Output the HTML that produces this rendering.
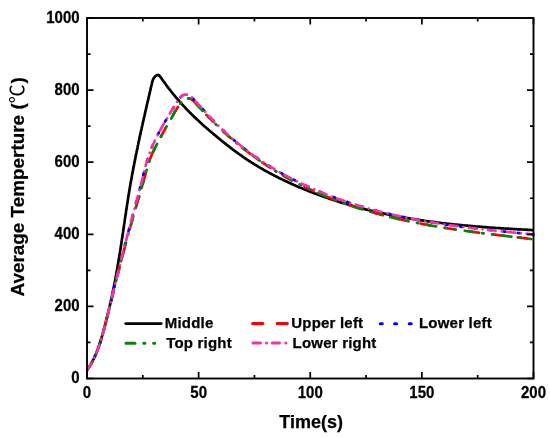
<!DOCTYPE html>
<html><head><meta charset="utf-8"><style>
html,body{margin:0;padding:0;background:#fff;}
svg{display:block;}
.t{font-family:"Liberation Sans",Arial,sans-serif;font-weight:bold;fill:#000;stroke:#000;stroke-width:0.25px;}
</style></head><body>
<svg width="550" height="438" viewBox="0 0 550 438">
<rect x="0" y="0" width="550" height="438" fill="#fff"/>
<g fill="none" stroke-width="2.7" stroke-linejoin="round">
<path d="M87.6 369.5L88.3 368.5L88.9 367.5L89.5 366.5L90.2 365.4L90.8 364.4L91.3 363.3L91.9 362.3L92.5 361.2L93.0 360.2L93.6 359.1L94.1 358.0L94.6 356.9L95.1 355.8L95.6 354.7L96.1 353.6L96.5 352.5L97.0 351.4L97.4 350.3L97.8 349.1L98.2 348.0L98.6 346.9L99.0 345.8L99.4 344.6L99.8 343.5L100.2 342.3L100.5 341.2L100.9 340.0L101.2 338.9L101.6 337.7L101.9 336.6L102.3 335.4L102.6 334.3L102.9 333.1L103.2 332.0L103.5 330.8L103.9 329.6L104.2 328.5L104.5 327.3L104.8 326.2L105.1 325.0L105.4 323.8L105.7 322.7L106.0 321.5L106.3 320.4L106.6 319.2L106.9 318.0L107.2 316.9L107.5 315.7L107.8 314.5L108.0 313.4L108.3 312.2L108.6 311.0L108.9 309.8L109.1 308.7L109.4 307.5L109.7 306.3L110.0 305.2L110.2 304.0L110.5 302.8L110.7 301.6L111.0 300.5L111.3 299.3L111.5 298.1L111.8 297.0L112.0 295.8L112.3 294.6L112.5 293.4L112.7 292.2L113.0 291.1L113.2 289.9L113.5 288.7L113.7 287.5L113.9 286.4L114.2 285.2L114.4 284.0L114.6 282.8L114.9 281.6L115.1 280.5L115.3 279.3L115.5 278.1L115.7 276.9L116.0 275.7L116.2 274.6L116.4 273.4L116.6 272.2L116.8 271.0L117.0 269.8L117.2 268.6L117.4 267.5L117.6 266.3L117.8 265.1L118.0 263.9L118.2 262.7L118.4 261.5L118.6 260.4L118.8 259.2L119.0 258.0L119.2 256.8L119.4 255.6L119.6 254.4L119.8 253.2L120.0 252.1L120.2 250.9L120.4 249.7L120.6 248.5L120.7 247.3L120.9 246.1L121.1 244.9L121.3 243.7L121.5 242.6L121.6 241.4L121.8 240.2L122.0 239.0L122.2 237.8L122.4 236.6L122.5 235.4L122.7 234.2L122.9 233.1L123.1 231.9L123.2 230.7L123.4 229.5L123.6 228.3L123.8 227.1L123.9 225.9L124.1 224.7L124.3 223.5L124.5 222.4L124.6 221.2L124.8 220.0L125.0 218.8L125.2 217.6L125.3 216.4L125.5 215.2L125.7 214.0L125.9 212.9L126.0 211.7L126.2 210.5L126.4 209.3L126.6 208.1L126.8 206.9L126.9 205.7L127.1 204.5L127.3 203.4L127.5 202.2L127.7 201.0L127.9 199.8L128.1 198.6L128.2 197.4L128.4 196.2L128.6 195.0L128.8 193.9L129.0 192.7L129.2 191.5L129.4 190.3L129.6 189.1L129.8 187.9L130.0 186.8L130.2 185.6L130.4 184.4L130.6 183.2L130.8 182.0L131.0 180.8L131.3 179.7L131.5 178.5L131.7 177.3L131.9 176.1L132.1 174.9L132.3 173.7L132.6 172.6L132.8 171.4L133.0 170.2L133.2 169.0L133.4 167.8L133.7 166.7L133.9 165.5L134.1 164.3L134.4 163.1L134.6 161.9L134.8 160.8L135.1 159.6L135.3 158.4L135.5 157.2L135.8 156.1L136.0 154.9L136.2 153.7L136.5 152.5L136.7 151.3L137.0 150.2L137.2 149.0L137.5 147.8L137.7 146.6L137.9 145.5L138.2 144.3L138.4 143.1L138.7 141.9L138.9 140.8L139.2 139.6L139.4 138.4L139.7 137.2L139.9 136.1L140.2 134.9L140.5 133.7L140.7 132.5L141.0 131.4L141.2 130.2L141.5 129.0L141.7 127.9L142.0 126.7L142.3 125.5L142.5 124.3L142.8 123.2L143.0 122.0L143.3 120.8L143.6 119.6L143.8 118.5L144.1 117.3L144.4 116.1L144.6 115.0L144.9 113.8L145.2 112.6L145.4 111.4L145.7 110.3L146.0 109.1L146.2 107.9L146.5 106.8L146.8 105.6L147.0 104.4L147.3 103.2L147.6 102.1L147.9 100.9L148.1 99.7L148.4 98.6L148.7 97.4L148.9 96.2L149.2 95.1L149.5 93.9L149.8 92.7L150.0 91.5L150.3 90.4L150.6 89.2L150.8 88.0L151.1 86.9L151.4 85.7L151.7 84.5L151.9 83.4L152.2 82.2L152.5 81.0L152.9 79.9L153.4 78.8L154.0 77.8L154.8 76.9L155.6 76.0L156.6 75.3L157.7 74.9L158.7 75.0L159.5 75.8L160.3 76.8L161.0 77.7L161.7 78.7L162.4 79.7L163.1 80.7L163.8 81.7L164.5 82.6L165.2 83.6L165.9 84.6L166.6 85.5L167.3 86.5L168.0 87.5L168.8 88.4L169.5 89.4L170.3 90.3L171.0 91.3L171.7 92.2L172.5 93.1L173.3 94.1L174.0 95.0L174.8 95.9L175.5 96.8L176.3 97.8L177.1 98.7L177.9 99.6L178.7 100.5L179.5 101.4L180.3 102.3L181.1 103.2L181.9 104.1L182.7 105.0L183.5 105.9L184.3 106.7L185.1 107.6L185.9 108.5L186.8 109.4L187.6 110.2L188.4 111.1L189.3 111.9L190.1 112.8L191.0 113.6L191.8 114.5L192.7 115.3L193.6 116.2L194.4 117.0L195.3 117.8L196.2 118.7L197.0 119.5L197.9 120.3L198.8 121.1L199.7 121.9L200.6 122.8L201.5 123.6L202.3 124.4L203.2 125.2L204.1 126.0L205.0 126.8L205.9 127.5L206.8 128.3L207.8 129.1L208.7 129.9L209.6 130.7L210.5 131.5L211.4 132.2L212.3 133.0L213.2 133.8L214.2 134.6L215.1 135.3L216.0 136.1L216.9 136.9L217.9 137.6L218.8 138.4L219.7 139.1L220.7 139.9L221.6 140.7L222.5 141.4L223.5 142.2L224.4 142.9L225.3 143.7L226.3 144.4L227.2 145.2L228.2 145.9L229.1 146.6L230.1 147.4L231.0 148.1L232.0 148.8L232.9 149.6L233.9 150.3L234.9 151.0L235.8 151.7L236.8 152.4L237.8 153.1L238.7 153.8L239.7 154.5L240.7 155.2L241.7 155.9L242.7 156.6L243.7 157.3L244.6 158.0L245.6 158.6L246.6 159.3L247.6 160.0L248.6 160.6L249.6 161.3L250.7 161.9L251.7 162.6L252.7 163.2L253.7 163.9L254.7 164.5L255.8 165.1L256.8 165.7L257.8 166.4L258.8 167.0L259.9 167.6L260.9 168.2L262.0 168.8L263.0 169.4L264.0 170.0L265.1 170.6L266.1 171.1L267.2 171.7L268.2 172.3L269.3 172.9L270.4 173.4L271.4 174.0L272.5 174.6L273.5 175.1L274.6 175.7L275.7 176.2L276.8 176.8L277.8 177.3L278.9 177.9L280.0 178.4L281.1 178.9L282.1 179.4L283.2 180.0L284.3 180.5L285.4 181.0L286.5 181.5L287.6 182.0L288.6 182.5L289.7 183.0L290.8 183.5L291.9 184.0L293.0 184.5L294.1 185.0L295.2 185.5L296.3 186.0L297.4 186.4L298.5 186.9L299.6 187.4L300.7 187.8L301.9 188.3L303.0 188.8L304.1 189.2L305.2 189.7L306.3 190.1L307.4 190.6L308.5 191.0L309.6 191.5L310.8 191.9L311.9 192.3L313.0 192.8L314.1 193.2L315.3 193.6L316.4 194.0L317.5 194.5L318.6 194.9L319.8 195.3L320.9 195.7L322.0 196.1L323.1 196.5L324.3 196.9L325.4 197.3L326.6 197.7L327.7 198.1L328.8 198.5L330.0 198.9L331.1 199.3L332.2 199.6L333.4 200.0L334.5 200.4L335.7 200.8L336.8 201.1L338.0 201.5L339.1 201.9L340.2 202.2L341.4 202.6L342.5 202.9L343.7 203.3L344.8 203.6L346.0 204.0L347.1 204.3L348.3 204.6L349.4 205.0L350.6 205.3L351.8 205.6L352.9 206.0L354.1 206.3L355.2 206.6L356.4 206.9L357.5 207.2L358.7 207.5L359.9 207.9L361.0 208.2L362.2 208.5L363.4 208.8L364.5 209.1L365.7 209.4L366.8 209.6L368.0 209.9L369.2 210.2L370.3 210.5L371.5 210.8L372.7 211.1L373.9 211.3L375.0 211.6L376.2 211.9L377.4 212.2L378.5 212.4L379.7 212.7L380.9 212.9L382.1 213.2L383.2 213.4L384.4 213.7L385.6 213.9L386.8 214.2L387.9 214.4L389.1 214.7L390.3 214.9L391.5 215.2L392.6 215.4L393.8 215.6L395.0 215.8L396.2 216.1L397.4 216.3L398.5 216.5L399.7 216.7L400.9 217.0L402.1 217.2L403.3 217.4L404.5 217.6L405.6 217.8L406.8 218.0L408.0 218.2L409.2 218.4L410.4 218.6L411.6 218.8L412.7 219.0L413.9 219.2L415.1 219.4L416.3 219.5L417.5 219.7L418.7 219.9L419.9 220.1L421.1 220.3L422.2 220.4L423.4 220.6L424.6 220.8L425.8 221.0L427.0 221.1L428.2 221.3L429.4 221.5L430.6 221.6L431.8 221.8L433.0 221.9L434.1 222.1L435.3 222.2L436.5 222.4L437.7 222.5L438.9 222.7L440.1 222.8L441.3 223.0L442.5 223.1L443.7 223.3L444.9 223.4L446.1 223.5L447.3 223.7L448.5 223.8L449.6 223.9L450.8 224.1L452.0 224.2L453.2 224.3L454.4 224.5L455.6 224.6L456.8 224.7L458.0 224.8L459.2 224.9L460.4 225.1L461.6 225.2L462.8 225.3L464.0 225.4L465.2 225.5L466.4 225.6L467.6 225.7L468.8 225.8L470.0 225.9L471.2 226.0L472.4 226.1L473.6 226.3L474.8 226.4L476.0 226.5L477.2 226.5L478.4 226.6L479.5 226.7L480.7 226.8L481.9 226.9L483.1 227.0L484.3 227.1L485.5 227.2L486.7 227.3L487.9 227.4L489.1 227.5L490.3 227.6L491.5 227.6L492.7 227.7L493.9 227.8L495.1 227.9L496.3 228.0L497.5 228.0L498.7 228.1L499.9 228.2L501.1 228.3L502.3 228.4L503.5 228.4L504.7 228.5L505.9 228.6L507.1 228.7L508.3 228.7L509.5 228.8L510.7 228.9L511.9 228.9L513.1 229.0L514.3 229.1L515.5 229.1L516.7 229.2L517.9 229.3L519.1 229.4L520.3 229.4L521.5 229.5L522.7 229.5L523.9 229.6L525.1 229.7L526.3 229.7L527.5 229.8L528.7 229.9L529.9 229.9L531.1 230.0L532.3 230.1L533.5 230.1" stroke="#000" stroke-linecap="butt"/>
<path d="M87.3 369.5L88.1 368.5L88.8 367.6L89.4 366.6L90.1 365.6L90.8 364.6L91.4 363.6L92.0 362.5L92.5 361.5L93.1 360.4L93.6 359.3L94.1 358.2L94.6 357.1L95.1 356.1L95.6 354.9L96.1 353.8L96.5 352.7L97.0 351.6L97.4 350.5L97.8 349.4L98.2 348.2L98.6 347.1L99.0 346.0L99.4 344.8L99.8 343.7L100.2 342.6L100.5 341.4L100.9 340.3L101.2 339.1L101.6 338.0L101.9 336.8L102.2 335.7L102.6 334.5L102.9 333.3L103.2 332.2L103.5 331.0L103.8 329.9L104.1 328.7L104.4 327.5L104.7 326.4L105.0 325.2L105.3 324.1L105.6 322.9L105.9 321.7L106.2 320.6L106.5 319.4L106.8 318.2L107.1 317.1L107.4 315.9L107.7 314.8L108.0 313.6L108.2 312.4L108.5 311.3L108.8 310.1L109.1 308.9L109.4 307.8L109.7 306.6L110.0 305.4L110.3 304.3L110.6 303.1L110.9 301.9L111.2 300.8L111.5 299.6L111.7 298.5L112.0 297.3L112.3 296.1L112.6 295.0L112.9 293.8L113.2 292.6L113.5 291.5L113.8 290.3L114.1 289.1L114.4 288.0L114.7 286.8L115.0 285.6L115.2 284.5L115.5 283.3L115.8 282.2L116.1 281.0L116.4 279.8L116.7 278.7L117.0 277.5L117.3 276.3L117.6 275.2L117.9 274.0L118.2 272.8L118.5 271.7L118.8 270.5L119.1 269.4L119.4 268.2L119.7 267.0L120.0 265.9L120.3 264.7L120.6 263.5L120.9 262.4L121.1 261.2L121.4 260.1L121.7 258.9L122.0 257.7L122.4 256.6L122.7 255.4L123.0 254.2L123.3 253.1L123.6 251.9L123.9 250.8L124.2 249.6L124.5 248.4L124.8 247.3L125.1 246.1L125.4 245.0L125.7 243.8L126.0 242.6L126.3 241.5L126.6 240.3L127.0 239.2L127.3 238.0L127.6 236.8L127.9 235.7L128.2 234.5L128.5 233.4L128.8 232.2L129.2 231.1L129.5 229.9L129.8 228.7L130.1 227.6L130.4 226.4L130.8 225.3L131.1 224.1L131.4 223.0L131.7 221.8L132.1 220.7L132.4 219.5L132.7 218.3L133.1 217.2L133.4 216.0L133.7 214.9L134.1 213.7L134.4 212.6L134.7 211.4L135.1 210.3L135.4 209.1L135.7 208.0L136.1 206.8L136.4 205.7L136.7 204.5L137.1 203.4L137.4 202.2L137.8 201.1L138.1 199.9L138.4 198.8L138.8 197.6L139.1 196.5L139.5 195.3L139.8 194.2L140.1 193.0L140.5 191.8L140.8 190.7L141.1 189.5L141.5 188.4L141.8 187.2L142.1 186.1L142.5 184.9L142.8 183.8L143.1 182.6L143.5 181.5L143.8 180.3L144.1 179.2L144.4 178.0L144.8 176.8L145.1 175.7L145.4 174.5L145.7 173.4L146.0 172.2L146.4 171.1L146.7 169.9L147.0 168.8L147.3 167.6L147.7 166.4L148.0 165.3L148.4 164.1L148.7 163.0L149.1 161.9L149.5 160.7L149.9 159.6L150.3 158.5L150.7 157.4L151.2 156.2L151.6 155.1L152.1 154.0L152.6 152.9L153.1 151.8L153.6 150.8L154.2 149.7L154.7 148.6L155.2 147.5L155.8 146.5L156.3 145.4L156.9 144.3L157.4 143.3L158.0 142.2L158.5 141.1L159.1 140.1L159.7 139.0L160.2 138.0L160.8 136.9L161.4 135.8L162.0 134.8L162.5 133.7L163.1 132.7L163.7 131.6L164.3 130.6L164.9 129.6L165.5 128.5L166.0 127.5L166.6 126.4L167.2 125.4L167.8 124.3L168.4 123.3L169.0 122.2L169.6 121.2L170.2 120.2L170.8 119.1L171.4 118.1L172.0 117.0L172.6 116.0L173.2 114.9L173.7 113.9L174.3 112.8L174.9 111.8L175.6 110.8L176.2 109.7L176.8 108.7L177.4 107.7L178.1 106.7L178.7 105.7L179.4 104.7L180.1 103.7L180.9 102.8L181.7 101.9L182.4 101.0L183.2 100.1L184.3 99.5L185.3 98.9L186.5 98.5L187.7 98.4L188.8 98.4L190.0 98.7L191.1 99.1L192.0 99.9L193.0 100.6L193.9 101.3L194.7 102.2L195.5 103.1L196.3 104.0L197.1 104.9L197.9 105.8L198.7 106.7L199.6 107.6L200.4 108.5L201.2 109.3L202.0 110.2L202.8 111.1L203.6 112.0L204.5 112.8L205.3 113.7L206.1 114.6L207.0 115.4L207.8 116.3L208.6 117.2L209.5 118.0L210.3 118.9L211.2 119.7L212.0 120.6L212.9 121.4L213.7 122.3L214.6 123.1L215.4 124.0L216.3 124.8L217.1 125.6L218.0 126.5L218.9 127.3L219.8 128.1L220.6 128.9L221.5 129.7L222.4 130.6L223.3 131.4L224.1 132.2L225.0 133.0L225.9 133.8L226.8 134.6L227.7 135.4L228.6 136.2L229.5 137.0L230.4 137.8L231.3 138.6L232.2 139.4L233.1 140.1L234.1 140.9L235.0 141.7L235.9 142.5L236.8 143.2L237.7 144.0L238.7 144.8L239.6 145.5L240.5 146.3L241.5 147.0L242.4 147.8L243.3 148.5L244.3 149.3L245.2 150.0L246.2 150.7L247.1 151.5L248.1 152.2L249.0 152.9L250.0 153.6L251.0 154.4L251.9 155.1L252.9 155.8L253.9 156.5L254.8 157.2L255.8 157.9L256.8 158.6L257.8 159.3L258.8 160.0L259.7 160.7L260.7 161.3L261.7 162.0L262.7 162.7L263.7 163.4L264.7 164.0L265.7 164.7L266.7 165.4L267.7 166.0L268.7 166.7L269.7 167.3L270.7 168.0L271.7 168.6L272.8 169.3L273.8 169.9L274.8 170.5L275.8 171.1L276.8 171.8L277.9 172.4L278.9 173.0L279.9 173.6L281.0 174.2L282.0 174.8L283.0 175.4L284.1 176.0L285.1 176.6L286.2 177.2L287.2 177.8L288.3 178.4L289.3 179.0L290.4 179.5L291.4 180.1L292.5 180.7L293.6 181.2L294.6 181.8L295.7 182.3L296.7 182.9L297.8 183.4L298.9 184.0L300.0 184.5L301.0 185.1L302.1 185.6L303.2 186.1L304.3 186.7L305.3 187.2L306.4 187.7L307.5 188.2L308.6 188.7L309.7 189.2L310.8 189.7L311.9 190.2L312.9 190.7L314.0 191.2L315.1 191.7L316.2 192.2L317.3 192.7L318.4 193.2L319.5 193.7L320.6 194.1L321.7 194.6L322.8 195.1L324.0 195.5L325.1 196.0L326.2 196.4L327.3 196.9L328.4 197.3L329.5 197.8L330.6 198.2L331.7 198.7L332.9 199.1L334.0 199.5L335.1 200.0L336.2 200.4L337.3 200.8L338.5 201.2L339.6 201.7L340.7 202.1L341.8 202.5L343.0 202.9L344.1 203.3L345.2 203.7L346.4 204.1L347.5 204.5L348.6 204.9L349.8 205.3L350.9 205.7L352.0 206.0L353.2 206.4L354.3 206.8L355.5 207.2L356.6 207.5L357.8 207.9L358.9 208.3L360.0 208.6L361.2 209.0L362.3 209.4L363.5 209.7L364.6 210.1L365.8 210.4L366.9 210.7L368.1 211.1L369.2 211.4L370.4 211.8L371.5 212.1L372.7 212.4L373.8 212.7L375.0 213.1L376.2 213.4L377.3 213.7L378.5 214.0L379.6 214.3L380.8 214.6L382.0 214.9L383.1 215.3L384.3 215.6L385.4 215.9L386.6 216.1L387.8 216.4L388.9 216.7L390.1 217.0L391.3 217.3L392.4 217.6L393.6 217.9L394.8 218.1L395.9 218.4L397.1 218.7L398.3 219.0L399.4 219.2L400.6 219.5L401.8 219.7L403.0 220.0L404.1 220.3L405.3 220.5L406.5 220.8L407.6 221.0L408.8 221.3L410.0 221.5L411.2 221.8L412.3 222.0L413.5 222.2L414.7 222.5L415.9 222.7L417.1 222.9L418.2 223.2L419.4 223.4L420.6 223.6L421.8 223.9L422.9 224.1L424.1 224.3L425.3 224.5L426.5 224.7L427.7 224.9L428.8 225.2L430.0 225.4L431.2 225.6L432.4 225.8L433.6 226.0L434.8 226.2L435.9 226.4L437.1 226.6L438.3 226.8L439.5 227.0L440.7 227.2L441.9 227.4L443.0 227.6L444.2 227.7L445.4 227.9L446.6 228.1L447.8 228.3L449.0 228.5L450.2 228.7L451.4 228.9L452.5 229.0L453.7 229.2L454.9 229.4L456.1 229.6L457.3 229.7L458.5 229.9L459.7 230.1L460.9 230.2L462.0 230.4L463.2 230.6L464.4 230.7L465.6 230.9L466.8 231.1L468.0 231.2L469.2 231.4L470.4 231.6L471.6 231.7L472.7 231.9L473.9 232.0L475.1 232.2L476.3 232.3L477.5 232.5L478.7 232.7L479.9 232.8L481.1 233.0L482.3 233.1L483.5 233.3L484.6 233.4L485.8 233.6L487.0 233.7L488.2 233.9L489.4 234.0L490.6 234.2L491.8 234.3L493.0 234.4L494.2 234.6L495.4 234.7L496.6 234.9L497.7 235.0L498.9 235.2L500.1 235.3L501.3 235.5L502.5 235.6L503.7 235.7L504.9 235.9L506.1 236.0L507.3 236.2L508.5 236.3L509.7 236.5L510.9 236.6L512.0 236.7L513.2 236.9L514.4 237.0L515.6 237.2L516.8 237.3L518.0 237.4L519.2 237.6L520.4 237.7L521.6 237.9L522.8 238.0L524.0 238.1L525.2 238.3L526.4 238.4L527.5 238.6L528.7 238.7L529.9 238.9L531.1 239.0L532.3 239.2L533.5 239.3" stroke="#ff0000" stroke-linecap="round" stroke-dasharray="10 14.5"/>
<path d="M87.5 369.5L88.1 368.5L88.8 367.5L89.5 366.5L90.1 365.5L90.7 364.5L91.3 363.4L91.9 362.4L92.5 361.3L93.1 360.3L93.6 359.2L94.1 358.1L94.6 357.0L95.1 355.9L95.6 354.8L96.1 353.7L96.5 352.6L97.0 351.5L97.4 350.4L97.8 349.2L98.2 348.1L98.7 347.0L99.0 345.9L99.4 344.7L99.8 343.6L100.2 342.4L100.6 341.3L100.9 340.1L101.3 339.0L101.6 337.8L102.0 336.7L102.3 335.5L102.6 334.4L102.9 333.2L103.3 332.1L103.6 330.9L103.9 329.7L104.2 328.6L104.5 327.4L104.8 326.3L105.1 325.1L105.4 323.9L105.7 322.8L106.0 321.6L106.3 320.4L106.6 319.3L106.9 318.1L107.1 316.9L107.4 315.8L107.7 314.6L108.0 313.4L108.3 312.3L108.6 311.1L108.9 309.9L109.1 308.8L109.4 307.6L109.7 306.4L110.0 305.3L110.3 304.1L110.6 302.9L110.8 301.8L111.1 300.6L111.4 299.4L111.7 298.3L112.0 297.1L112.3 295.9L112.6 294.8L112.8 293.6L113.1 292.4L113.4 291.2L113.7 290.1L114.0 288.9L114.3 287.7L114.5 286.6L114.8 285.4L115.1 284.2L115.4 283.1L115.7 281.9L116.0 280.7L116.3 279.6L116.5 278.4L116.8 277.2L117.1 276.1L117.4 274.9L117.7 273.7L118.0 272.6L118.3 271.4L118.6 270.2L118.8 269.1L119.1 267.9L119.4 266.7L119.7 265.6L120.0 264.4L120.3 263.2L120.6 262.1L120.9 260.9L121.2 259.7L121.4 258.6L121.7 257.4L122.0 256.2L122.3 255.1L122.6 253.9L122.9 252.7L123.2 251.6L123.5 250.4L123.8 249.3L124.1 248.1L124.4 246.9L124.7 245.8L125.0 244.6L125.3 243.4L125.6 242.3L125.9 241.1L126.2 239.9L126.5 238.8L126.8 237.6L127.1 236.4L127.4 235.3L127.7 234.1L128.0 233.0L128.3 231.8L128.6 230.6L128.9 229.5L129.2 228.3L129.5 227.1L129.8 226.0L130.1 224.8L130.4 223.7L130.7 222.5L131.0 221.3L131.3 220.2L131.6 219.0L132.0 217.9L132.3 216.7L132.6 215.5L132.9 214.4L133.2 213.2L133.5 212.1L133.8 210.9L134.2 209.7L134.5 208.6L134.8 207.4L135.1 206.3L135.4 205.1L135.7 203.9L136.0 202.8L136.4 201.6L136.7 200.5L137.0 199.3L137.3 198.1L137.6 197.0L137.9 195.8L138.2 194.7L138.6 193.5L138.9 192.3L139.2 191.2L139.5 190.0L139.8 188.9L140.1 187.7L140.4 186.5L140.7 185.4L141.0 184.2L141.3 183.0L141.6 181.9L141.9 180.7L142.2 179.5L142.5 178.4L142.8 177.2L143.0 176.0L143.3 174.9L143.6 173.7L143.9 172.5L144.2 171.4L144.5 170.2L144.8 169.0L145.1 167.9L145.4 166.7L145.7 165.6L146.0 164.4L146.4 163.2L146.7 162.1L147.0 160.9L147.4 159.8L147.7 158.6L148.1 157.5L148.5 156.4L148.9 155.2L149.3 154.1L149.7 152.9L150.1 151.8L150.5 150.7L150.9 149.6L151.4 148.5L151.8 147.4L152.3 146.2L152.8 145.1L153.3 144.0L153.8 143.0L154.3 141.9L154.8 140.8L155.3 139.7L155.8 138.6L156.4 137.5L156.9 136.5L157.5 135.4L158.0 134.3L158.6 133.3L159.1 132.2L159.7 131.1L160.3 130.1L160.9 129.0L161.5 128.0L162.0 126.9L162.6 125.9L163.2 124.8L163.8 123.8L164.4 122.8L165.0 121.7L165.6 120.7L166.3 119.7L166.9 118.6L167.5 117.6L168.1 116.6L168.7 115.5L169.3 114.5L170.0 113.5L170.6 112.4L171.2 111.4L171.8 110.4L172.5 109.4L173.1 108.3L173.7 107.3L174.3 106.3L175.0 105.3L175.6 104.2L176.2 103.2L176.9 102.2L177.5 101.2L178.2 100.2L178.9 99.2L179.6 98.3L180.4 97.3L181.3 96.5L182.1 95.7L183.2 95.1L184.3 94.7L185.5 94.5L186.7 94.6L187.9 94.7L189.1 94.7L190.0 95.5L190.8 96.3L191.7 97.2L192.5 98.0L193.3 98.9L194.2 99.8L195.0 100.6L195.8 101.5L196.6 102.4L197.4 103.3L198.2 104.2L199.1 105.1L199.9 105.9L200.7 106.8L201.5 107.7L202.3 108.6L203.1 109.5L203.9 110.4L204.7 111.3L205.5 112.2L206.3 113.1L207.1 114.0L207.9 114.9L208.7 115.7L209.6 116.6L210.4 117.5L211.2 118.4L212.0 119.2L212.9 120.1L213.7 121.0L214.5 121.8L215.4 122.7L216.2 123.6L217.1 124.4L217.9 125.3L218.8 126.1L219.6 126.9L220.5 127.8L221.3 128.6L222.2 129.5L223.1 130.3L224.0 131.1L224.8 131.9L225.7 132.7L226.6 133.6L227.5 134.4L228.4 135.2L229.3 136.0L230.2 136.8L231.1 137.6L232.0 138.4L232.9 139.1L233.8 139.9L234.7 140.7L235.6 141.5L236.5 142.3L237.5 143.0L238.4 143.8L239.3 144.5L240.3 145.3L241.2 146.1L242.1 146.8L243.1 147.6L244.0 148.3L245.0 149.0L245.9 149.8L246.9 150.5L247.8 151.2L248.8 151.9L249.8 152.7L250.7 153.4L251.7 154.1L252.7 154.8L253.6 155.5L254.6 156.2L255.6 156.9L256.6 157.6L257.6 158.3L258.6 158.9L259.6 159.6L260.6 160.3L261.5 161.0L262.5 161.6L263.6 162.3L264.6 163.0L265.6 163.6L266.6 164.3L267.6 164.9L268.6 165.6L269.6 166.2L270.6 166.8L271.7 167.5L272.7 168.1L273.7 168.7L274.8 169.3L275.8 169.9L276.8 170.5L277.9 171.1L278.9 171.7L279.9 172.3L281.0 172.9L282.0 173.5L283.1 174.1L284.1 174.7L285.2 175.3L286.2 175.8L287.3 176.4L288.4 177.0L289.4 177.5L290.5 178.1L291.6 178.6L292.6 179.2L293.7 179.7L294.8 180.3L295.8 180.8L296.9 181.4L298.0 181.9L299.1 182.4L300.2 182.9L301.2 183.5L302.3 184.0L303.4 184.5L304.5 185.0L305.6 185.5L306.7 186.0L307.8 186.5L308.9 187.0L310.0 187.5L311.1 188.0L312.2 188.4L313.3 188.9L314.4 189.4L315.5 189.9L316.6 190.3L317.7 190.8L318.8 191.3L319.9 191.7L321.0 192.2L322.1 192.6L323.3 193.1L324.4 193.5L325.5 194.0L326.6 194.4L327.7 194.9L328.8 195.3L330.0 195.7L331.1 196.2L332.2 196.6L333.3 197.0L334.5 197.4L335.6 197.9L336.7 198.3L337.8 198.7L339.0 199.1L340.1 199.5L341.2 199.9L342.4 200.3L343.5 200.7L344.6 201.1L345.8 201.5L346.9 201.8L348.1 202.2L349.2 202.6L350.3 203.0L351.5 203.4L352.6 203.7L353.8 204.1L354.9 204.5L356.1 204.8L357.2 205.2L358.4 205.5L359.5 205.9L360.7 206.2L361.8 206.6L363.0 206.9L364.1 207.2L365.3 207.6L366.4 207.9L367.6 208.3L368.7 208.6L369.9 208.9L371.0 209.2L372.2 209.5L373.4 209.9L374.5 210.2L375.7 210.5L376.8 210.8L378.0 211.1L379.2 211.4L380.3 211.7L381.5 212.0L382.7 212.3L383.8 212.6L385.0 212.9L386.2 213.2L387.3 213.4L388.5 213.7L389.7 214.0L390.8 214.3L392.0 214.5L393.2 214.8L394.4 215.1L395.5 215.4L396.7 215.6L397.9 215.9L399.0 216.1L400.2 216.4L401.4 216.6L402.6 216.9L403.7 217.1L404.9 217.4L406.1 217.6L407.3 217.9L408.5 218.1L409.6 218.3L410.8 218.6L412.0 218.8L413.2 219.0L414.3 219.3L415.5 219.5L416.7 219.7L417.9 219.9L419.1 220.2L420.3 220.4L421.4 220.6L422.6 220.8L423.8 221.0L425.0 221.2L426.2 221.4L427.4 221.6L428.5 221.8L429.7 222.0L430.9 222.2L432.1 222.4L433.3 222.6L434.5 222.8L435.7 223.0L436.8 223.2L438.0 223.4L439.2 223.6L440.4 223.7L441.6 223.9L442.8 224.1L444.0 224.3L445.2 224.5L446.3 224.6L447.5 224.8L448.7 225.0L449.9 225.1L451.1 225.3L452.3 225.5L453.5 225.6L454.7 225.8L455.9 226.0L457.1 226.1L458.2 226.3L459.4 226.4L460.6 226.6L461.8 226.8L463.0 226.9L464.2 227.1L465.4 227.2L466.6 227.4L467.8 227.5L469.0 227.7L470.2 227.8L471.4 228.0L472.6 228.1L473.7 228.2L474.9 228.4L476.1 228.5L477.3 228.7L478.5 228.8L479.7 228.9L480.9 229.1L482.1 229.2L483.3 229.3L484.5 229.5L485.7 229.6L486.9 229.7L488.1 229.9L489.3 230.0L490.5 230.1L491.7 230.3L492.9 230.4L494.0 230.5L495.2 230.6L496.4 230.8L497.6 230.9L498.8 231.0L500.0 231.1L501.2 231.3L502.4 231.4L503.6 231.5L504.8 231.6L506.0 231.8L507.2 231.9L508.4 232.0L509.6 232.1L510.8 232.2L512.0 232.4L513.2 232.5L514.4 232.6L515.6 232.7L516.8 232.8L518.0 233.0L519.2 233.1L520.3 233.2L521.5 233.3L522.7 233.4L523.9 233.6L525.1 233.7L526.3 233.8L527.5 233.9L528.7 234.0L529.9 234.1L531.1 234.3L532.3 234.4L533.5 234.5" stroke="#0000ff" stroke-linecap="round" stroke-dasharray="2 12.5"/>
<path d="M87.3 369.5L88.1 368.5L88.8 367.6L89.4 366.6L90.1 365.6L90.8 364.6L91.4 363.6L92.0 362.5L92.5 361.5L93.1 360.4L93.6 359.3L94.1 358.2L94.6 357.1L95.1 356.1L95.6 354.9L96.1 353.8L96.5 352.7L97.0 351.6L97.4 350.5L97.8 349.4L98.2 348.2L98.6 347.1L99.0 346.0L99.4 344.8L99.8 343.7L100.2 342.6L100.5 341.4L100.9 340.3L101.2 339.1L101.6 338.0L101.9 336.8L102.2 335.7L102.6 334.5L102.9 333.3L103.2 332.2L103.5 331.0L103.8 329.9L104.1 328.7L104.4 327.5L104.7 326.4L105.0 325.2L105.3 324.1L105.6 322.9L105.9 321.7L106.2 320.6L106.5 319.4L106.8 318.2L107.1 317.1L107.4 315.9L107.7 314.8L108.0 313.6L108.2 312.4L108.5 311.3L108.8 310.1L109.1 308.9L109.4 307.8L109.7 306.6L110.0 305.4L110.3 304.3L110.6 303.1L110.9 301.9L111.2 300.8L111.5 299.6L111.7 298.5L112.0 297.3L112.3 296.1L112.6 295.0L112.9 293.8L113.2 292.6L113.5 291.5L113.8 290.3L114.1 289.1L114.4 288.0L114.7 286.8L115.0 285.6L115.2 284.5L115.5 283.3L115.8 282.2L116.1 281.0L116.4 279.8L116.7 278.7L117.0 277.5L117.3 276.3L117.6 275.2L117.9 274.0L118.2 272.8L118.5 271.7L118.8 270.5L119.1 269.4L119.4 268.2L119.7 267.0L120.0 265.9L120.3 264.7L120.6 263.5L120.9 262.4L121.1 261.2L121.4 260.1L121.7 258.9L122.0 257.7L122.4 256.6L122.7 255.4L123.0 254.2L123.3 253.1L123.6 251.9L123.9 250.8L124.2 249.6L124.5 248.4L124.8 247.3L125.1 246.1L125.4 245.0L125.7 243.8L126.0 242.6L126.3 241.5L126.6 240.3L127.0 239.2L127.3 238.0L127.6 236.8L127.9 235.7L128.2 234.5L128.5 233.4L128.8 232.2L129.2 231.1L129.5 229.9L129.8 228.7L130.1 227.6L130.4 226.4L130.8 225.3L131.1 224.1L131.4 223.0L131.7 221.8L132.1 220.7L132.4 219.5L132.7 218.3L133.1 217.2L133.4 216.0L133.7 214.9L134.1 213.7L134.4 212.6L134.7 211.4L135.1 210.3L135.4 209.1L135.7 208.0L136.1 206.8L136.4 205.7L136.7 204.5L137.1 203.4L137.4 202.2L137.8 201.1L138.1 199.9L138.4 198.8L138.8 197.6L139.1 196.5L139.5 195.3L139.8 194.2L140.1 193.0L140.5 191.8L140.8 190.7L141.1 189.5L141.5 188.4L141.8 187.2L142.1 186.1L142.5 184.9L142.8 183.8L143.1 182.6L143.5 181.5L143.8 180.3L144.1 179.2L144.4 178.0L144.8 176.8L145.1 175.7L145.4 174.5L145.7 173.4L146.0 172.2L146.4 171.1L146.7 169.9L147.0 168.8L147.3 167.6L147.7 166.4L148.0 165.3L148.4 164.1L148.7 163.0L149.1 161.9L149.5 160.7L149.9 159.6L150.3 158.5L150.7 157.4L151.2 156.2L151.6 155.1L152.1 154.0L152.6 152.9L153.1 151.8L153.6 150.8L154.2 149.7L154.7 148.6L155.2 147.5L155.8 146.5L156.3 145.4L156.9 144.3L157.4 143.3L158.0 142.2L158.5 141.1L159.1 140.1L159.7 139.0L160.2 138.0L160.8 136.9L161.4 135.8L162.0 134.8L162.5 133.7L163.1 132.7L163.7 131.6L164.3 130.6L164.9 129.6L165.5 128.5L166.0 127.5L166.6 126.4L167.2 125.4L167.8 124.3L168.4 123.3L169.0 122.2L169.6 121.2L170.2 120.2L170.8 119.1L171.4 118.1L172.0 117.0L172.6 116.0L173.2 114.9L173.7 113.9L174.3 112.8L174.9 111.8L175.6 110.8L176.2 109.7L176.8 108.7L177.4 107.7L178.1 106.7L178.7 105.7L179.4 104.7L180.1 103.7L180.9 102.8L181.7 101.9L182.4 101.0L183.2 100.1L184.3 99.5L185.3 98.9L186.5 98.5L187.7 98.4L188.8 98.4L190.0 98.7L191.1 99.1L192.0 99.9L193.0 100.6L193.9 101.3L194.7 102.2L195.5 103.1L196.3 104.0L197.1 104.9L197.9 105.8L198.7 106.7L199.6 107.6L200.4 108.5L201.2 109.3L202.0 110.2L202.8 111.1L203.6 112.0L204.5 112.8L205.3 113.7L206.1 114.6L207.0 115.4L207.8 116.3L208.6 117.2L209.5 118.0L210.3 118.9L211.2 119.7L212.0 120.6L212.9 121.4L213.7 122.3L214.6 123.1L215.4 124.0L216.3 124.8L217.1 125.6L218.0 126.5L218.9 127.3L219.8 128.1L220.6 128.9L221.5 129.7L222.4 130.6L223.3 131.4L224.1 132.2L225.0 133.0L225.9 133.8L226.8 134.6L227.7 135.4L228.6 136.2L229.5 137.0L230.4 137.8L231.3 138.6L232.2 139.4L233.1 140.1L234.1 140.9L235.0 141.7L235.9 142.5L236.8 143.2L237.7 144.0L238.7 144.8L239.6 145.5L240.5 146.3L241.5 147.0L242.4 147.8L243.3 148.5L244.3 149.3L245.2 150.0L246.2 150.7L247.1 151.5L248.1 152.2L249.0 152.9L250.0 153.6L251.0 154.4L251.9 155.1L252.9 155.8L253.9 156.5L254.8 157.2L255.8 157.9L256.8 158.6L257.8 159.3L258.8 160.0L259.7 160.7L260.7 161.3L261.7 162.0L262.7 162.7L263.7 163.4L264.7 164.0L265.7 164.7L266.7 165.4L267.7 166.0L268.7 166.7L269.7 167.3L270.7 168.0L271.7 168.6L272.8 169.3L273.8 169.9L274.8 170.5L275.8 171.1L276.8 171.8L277.9 172.4L278.9 173.0L279.9 173.6L281.0 174.2L282.0 174.8L283.0 175.4L284.1 176.0L285.1 176.6L286.2 177.2L287.2 177.8L288.3 178.4L289.3 179.0L290.4 179.5L291.4 180.1L292.5 180.7L293.6 181.2L294.6 181.8L295.7 182.3L296.7 182.9L297.8 183.4L298.9 184.0L300.0 184.5L301.0 185.1L302.1 185.6L303.2 186.1L304.3 186.7L305.3 187.2L306.4 187.7L307.5 188.2L308.6 188.7L309.7 189.2L310.8 189.7L311.9 190.2L312.9 190.7L314.0 191.2L315.1 191.7L316.2 192.2L317.3 192.7L318.4 193.2L319.5 193.7L320.6 194.1L321.7 194.6L322.8 195.1L324.0 195.5L325.1 196.0L326.2 196.4L327.3 196.9L328.4 197.3L329.5 197.8L330.6 198.2L331.7 198.7L332.9 199.1L334.0 199.5L335.1 200.0L336.2 200.4L337.3 200.8L338.5 201.2L339.6 201.7L340.7 202.1L341.8 202.5L343.0 202.9L344.1 203.3L345.2 203.7L346.4 204.1L347.5 204.5L348.6 204.9L349.8 205.3L350.9 205.7L352.0 206.0L353.2 206.4L354.3 206.8L355.5 207.2L356.6 207.5L357.8 207.9L358.9 208.3L360.0 208.6L361.2 209.0L362.3 209.4L363.5 209.7L364.6 210.1L365.8 210.4L366.9 210.7L368.1 211.1L369.2 211.4L370.4 211.8L371.5 212.1L372.7 212.4L373.8 212.7L375.0 213.1L376.2 213.4L377.3 213.7L378.5 214.0L379.6 214.3L380.8 214.6L382.0 214.9L383.1 215.3L384.3 215.6L385.4 215.9L386.6 216.1L387.8 216.4L388.9 216.7L390.1 217.0L391.3 217.3L392.4 217.6L393.6 217.9L394.8 218.1L395.9 218.4L397.1 218.7L398.3 219.0L399.4 219.2L400.6 219.5L401.8 219.7L403.0 220.0L404.1 220.3L405.3 220.5L406.5 220.8L407.6 221.0L408.8 221.3L410.0 221.5L411.2 221.8L412.3 222.0L413.5 222.2L414.7 222.5L415.9 222.7L417.1 222.9L418.2 223.2L419.4 223.4L420.6 223.6L421.8 223.9L422.9 224.1L424.1 224.3L425.3 224.5L426.5 224.7L427.7 224.9L428.8 225.2L430.0 225.4L431.2 225.6L432.4 225.8L433.6 226.0L434.8 226.2L435.9 226.4L437.1 226.6L438.3 226.8L439.5 227.0L440.7 227.2L441.9 227.4L443.0 227.6L444.2 227.7L445.4 227.9L446.6 228.1L447.8 228.3L449.0 228.5L450.2 228.7L451.4 228.9L452.5 229.0L453.7 229.2L454.9 229.4L456.1 229.6L457.3 229.7L458.5 229.9L459.7 230.1L460.9 230.2L462.0 230.4L463.2 230.6L464.4 230.7L465.6 230.9L466.8 231.1L468.0 231.2L469.2 231.4L470.4 231.6L471.6 231.7L472.7 231.9L473.9 232.0L475.1 232.2L476.3 232.3L477.5 232.5L478.7 232.7L479.9 232.8L481.1 233.0L482.3 233.1L483.5 233.3L484.6 233.4L485.8 233.6L487.0 233.7L488.2 233.9L489.4 234.0L490.6 234.2L491.8 234.3L493.0 234.4L494.2 234.6L495.4 234.7L496.6 234.9L497.7 235.0L498.9 235.2L500.1 235.3L501.3 235.5L502.5 235.6L503.7 235.7L504.9 235.9L506.1 236.0L507.3 236.2L508.5 236.3L509.7 236.5L510.9 236.6L512.0 236.7L513.2 236.9L514.4 237.0L515.6 237.2L516.8 237.3L518.0 237.4L519.2 237.6L520.4 237.7L521.6 237.9L522.8 238.0L524.0 238.1L525.2 238.3L526.4 238.4L527.5 238.6L528.7 238.7L529.9 238.9L531.1 239.0L532.3 239.2L533.5 239.3" stroke="#008800" stroke-linecap="round" stroke-dasharray="9 8.5 1.5 8.5 1.5 9"/>
<path d="M87.5 369.5L88.1 368.5L88.8 367.5L89.5 366.5L90.1 365.5L90.7 364.5L91.3 363.4L91.9 362.4L92.5 361.3L93.1 360.3L93.6 359.2L94.1 358.1L94.6 357.0L95.1 355.9L95.6 354.8L96.1 353.7L96.5 352.6L97.0 351.5L97.4 350.4L97.8 349.2L98.2 348.1L98.7 347.0L99.0 345.9L99.4 344.7L99.8 343.6L100.2 342.4L100.6 341.3L100.9 340.1L101.3 339.0L101.6 337.8L102.0 336.7L102.3 335.5L102.6 334.4L102.9 333.2L103.3 332.1L103.6 330.9L103.9 329.7L104.2 328.6L104.5 327.4L104.8 326.3L105.1 325.1L105.4 323.9L105.7 322.8L106.0 321.6L106.3 320.4L106.6 319.3L106.9 318.1L107.1 316.9L107.4 315.8L107.7 314.6L108.0 313.4L108.3 312.3L108.6 311.1L108.9 309.9L109.1 308.8L109.4 307.6L109.7 306.4L110.0 305.3L110.3 304.1L110.6 302.9L110.8 301.8L111.1 300.6L111.4 299.4L111.7 298.3L112.0 297.1L112.3 295.9L112.6 294.8L112.8 293.6L113.1 292.4L113.4 291.2L113.7 290.1L114.0 288.9L114.3 287.7L114.5 286.6L114.8 285.4L115.1 284.2L115.4 283.1L115.7 281.9L116.0 280.7L116.3 279.6L116.5 278.4L116.8 277.2L117.1 276.1L117.4 274.9L117.7 273.7L118.0 272.6L118.3 271.4L118.6 270.2L118.8 269.1L119.1 267.9L119.4 266.7L119.7 265.6L120.0 264.4L120.3 263.2L120.6 262.1L120.9 260.9L121.2 259.7L121.4 258.6L121.7 257.4L122.0 256.2L122.3 255.1L122.6 253.9L122.9 252.7L123.2 251.6L123.5 250.4L123.8 249.3L124.1 248.1L124.4 246.9L124.7 245.8L125.0 244.6L125.3 243.4L125.6 242.3L125.9 241.1L126.2 239.9L126.5 238.8L126.8 237.6L127.1 236.4L127.4 235.3L127.7 234.1L128.0 233.0L128.3 231.8L128.6 230.6L128.9 229.5L129.2 228.3L129.5 227.1L129.8 226.0L130.1 224.8L130.4 223.7L130.7 222.5L131.0 221.3L131.3 220.2L131.6 219.0L132.0 217.9L132.3 216.7L132.6 215.5L132.9 214.4L133.2 213.2L133.5 212.1L133.8 210.9L134.2 209.7L134.5 208.6L134.8 207.4L135.1 206.3L135.4 205.1L135.7 203.9L136.0 202.8L136.4 201.6L136.7 200.5L137.0 199.3L137.3 198.1L137.6 197.0L137.9 195.8L138.2 194.7L138.6 193.5L138.9 192.3L139.2 191.2L139.5 190.0L139.8 188.9L140.1 187.7L140.4 186.5L140.7 185.4L141.0 184.2L141.3 183.0L141.6 181.9L141.9 180.7L142.2 179.5L142.5 178.4L142.8 177.2L143.0 176.0L143.3 174.9L143.6 173.7L143.9 172.5L144.2 171.4L144.5 170.2L144.8 169.0L145.1 167.9L145.4 166.7L145.7 165.6L146.0 164.4L146.4 163.2L146.7 162.1L147.0 160.9L147.4 159.8L147.7 158.6L148.1 157.5L148.5 156.4L148.9 155.2L149.3 154.1L149.7 152.9L150.1 151.8L150.5 150.7L150.9 149.6L151.4 148.5L151.8 147.4L152.3 146.2L152.8 145.1L153.3 144.0L153.8 143.0L154.3 141.9L154.8 140.8L155.3 139.7L155.8 138.6L156.4 137.5L156.9 136.5L157.5 135.4L158.0 134.3L158.6 133.3L159.1 132.2L159.7 131.1L160.3 130.1L160.9 129.0L161.5 128.0L162.0 126.9L162.6 125.9L163.2 124.8L163.8 123.8L164.4 122.8L165.0 121.7L165.6 120.7L166.3 119.7L166.9 118.6L167.5 117.6L168.1 116.6L168.7 115.5L169.3 114.5L170.0 113.5L170.6 112.4L171.2 111.4L171.8 110.4L172.5 109.4L173.1 108.3L173.7 107.3L174.3 106.3L175.0 105.3L175.6 104.2L176.2 103.2L176.9 102.2L177.5 101.2L178.2 100.2L178.9 99.2L179.6 98.3L180.4 97.3L181.3 96.5L182.1 95.7L183.2 95.1L184.3 94.7L185.5 94.5L186.7 94.6L187.9 94.7L189.1 94.7L190.0 95.5L190.8 96.3L191.7 97.2L192.5 98.0L193.3 98.9L194.2 99.8L195.0 100.6L195.8 101.5L196.6 102.4L197.4 103.3L198.2 104.2L199.1 105.1L199.9 105.9L200.7 106.8L201.5 107.7L202.3 108.6L203.1 109.5L203.9 110.4L204.7 111.3L205.5 112.2L206.3 113.1L207.1 114.0L207.9 114.9L208.7 115.7L209.6 116.6L210.4 117.5L211.2 118.4L212.0 119.2L212.9 120.1L213.7 121.0L214.5 121.8L215.4 122.7L216.2 123.6L217.1 124.4L217.9 125.3L218.8 126.1L219.6 126.9L220.5 127.8L221.3 128.6L222.2 129.5L223.1 130.3L224.0 131.1L224.8 131.9L225.7 132.7L226.6 133.6L227.5 134.4L228.4 135.2L229.3 136.0L230.2 136.8L231.1 137.6L232.0 138.4L232.9 139.1L233.8 139.9L234.7 140.7L235.6 141.5L236.5 142.3L237.5 143.0L238.4 143.8L239.3 144.5L240.3 145.3L241.2 146.1L242.1 146.8L243.1 147.6L244.0 148.3L245.0 149.0L245.9 149.8L246.9 150.5L247.8 151.2L248.8 151.9L249.8 152.7L250.7 153.4L251.7 154.1L252.7 154.8L253.6 155.5L254.6 156.2L255.6 156.9L256.6 157.6L257.6 158.3L258.6 158.9L259.6 159.6L260.6 160.3L261.5 161.0L262.5 161.6L263.6 162.3L264.6 163.0L265.6 163.6L266.6 164.3L267.6 164.9L268.6 165.6L269.6 166.2L270.6 166.8L271.7 167.5L272.7 168.1L273.7 168.7L274.8 169.3L275.8 169.9L276.8 170.5L277.9 171.1L278.9 171.7L279.9 172.3L281.0 172.9L282.0 173.5L283.1 174.1L284.1 174.7L285.2 175.3L286.2 175.8L287.3 176.4L288.4 177.0L289.4 177.5L290.5 178.1L291.6 178.6L292.6 179.2L293.7 179.7L294.8 180.3L295.8 180.8L296.9 181.4L298.0 181.9L299.1 182.4L300.2 182.9L301.2 183.5L302.3 184.0L303.4 184.5L304.5 185.0L305.6 185.5L306.7 186.0L307.8 186.5L308.9 187.0L310.0 187.5L311.1 188.0L312.2 188.4L313.3 188.9L314.4 189.4L315.5 189.9L316.6 190.3L317.7 190.8L318.8 191.3L319.9 191.7L321.0 192.2L322.1 192.6L323.3 193.1L324.4 193.5L325.5 194.0L326.6 194.4L327.7 194.9L328.8 195.3L330.0 195.7L331.1 196.2L332.2 196.6L333.3 197.0L334.5 197.4L335.6 197.9L336.7 198.3L337.8 198.7L339.0 199.1L340.1 199.5L341.2 199.9L342.4 200.3L343.5 200.7L344.6 201.1L345.8 201.5L346.9 201.8L348.1 202.2L349.2 202.6L350.3 203.0L351.5 203.4L352.6 203.7L353.8 204.1L354.9 204.5L356.1 204.8L357.2 205.2L358.4 205.5L359.5 205.9L360.7 206.2L361.8 206.6L363.0 206.9L364.1 207.2L365.3 207.6L366.4 207.9L367.6 208.3L368.7 208.6L369.9 208.9L371.0 209.2L372.2 209.5L373.4 209.9L374.5 210.2L375.7 210.5L376.8 210.8L378.0 211.1L379.2 211.4L380.3 211.7L381.5 212.0L382.7 212.3L383.8 212.6L385.0 212.9L386.2 213.2L387.3 213.4L388.5 213.7L389.7 214.0L390.8 214.3L392.0 214.5L393.2 214.8L394.4 215.1L395.5 215.4L396.7 215.6L397.9 215.9L399.0 216.1L400.2 216.4L401.4 216.6L402.6 216.9L403.7 217.1L404.9 217.4L406.1 217.6L407.3 217.9L408.5 218.1L409.6 218.3L410.8 218.6L412.0 218.8L413.2 219.0L414.3 219.3L415.5 219.5L416.7 219.7L417.9 219.9L419.1 220.2L420.3 220.4L421.4 220.6L422.6 220.8L423.8 221.0L425.0 221.2L426.2 221.4L427.4 221.6L428.5 221.8L429.7 222.0L430.9 222.2L432.1 222.4L433.3 222.6L434.5 222.8L435.7 223.0L436.8 223.2L438.0 223.4L439.2 223.6L440.4 223.7L441.6 223.9L442.8 224.1L444.0 224.3L445.2 224.5L446.3 224.6L447.5 224.8L448.7 225.0L449.9 225.1L451.1 225.3L452.3 225.5L453.5 225.6L454.7 225.8L455.9 226.0L457.1 226.1L458.2 226.3L459.4 226.4L460.6 226.6L461.8 226.8L463.0 226.9L464.2 227.1L465.4 227.2L466.6 227.4L467.8 227.5L469.0 227.7L470.2 227.8L471.4 228.0L472.6 228.1L473.7 228.2L474.9 228.4L476.1 228.5L477.3 228.7L478.5 228.8L479.7 228.9L480.9 229.1L482.1 229.2L483.3 229.3L484.5 229.5L485.7 229.6L486.9 229.7L488.1 229.9L489.3 230.0L490.5 230.1L491.7 230.3L492.9 230.4L494.0 230.5L495.2 230.6L496.4 230.8L497.6 230.9L498.8 231.0L500.0 231.1L501.2 231.3L502.4 231.4L503.6 231.5L504.8 231.6L506.0 231.8L507.2 231.9L508.4 232.0L509.6 232.1L510.8 232.2L512.0 232.4L513.2 232.5L514.4 232.6L515.6 232.7L516.8 232.8L518.0 233.0L519.2 233.1L520.3 233.2L521.5 233.3L522.7 233.4L523.9 233.6L525.1 233.7L526.3 233.8L527.5 233.9L528.7 234.0L529.9 234.1L531.1 234.3L532.3 234.4L533.5 234.5" stroke="#fa2ea8" stroke-linecap="round" stroke-dasharray="7.5 6.2 0.01 5.6"/>
</g>
<rect x="87.0" y="18.0" width="446.5" height="360.5" fill="none" stroke="#000" stroke-width="1.9"/>
<path d="M87.0 378.50h6.5M533.5 378.50h-6.5M87.0 342.45h3.5M533.5 342.45h-3.5M87.0 306.40h6.5M533.5 306.40h-6.5M87.0 270.35h3.5M533.5 270.35h-3.5M87.0 234.30h6.5M533.5 234.30h-6.5M87.0 198.25h3.5M533.5 198.25h-3.5M87.0 162.20h6.5M533.5 162.20h-6.5M87.0 126.15h3.5M533.5 126.15h-3.5M87.0 90.10h6.5M533.5 90.10h-6.5M87.0 54.05h3.5M533.5 54.05h-3.5M87.0 18.00h6.5M533.5 18.00h-6.5M87.00 378.5v-6.5M87.00 18.0v6.5M142.81 378.5v-3.5M142.81 18.0v3.5M198.62 378.5v-6.5M198.62 18.0v6.5M254.44 378.5v-3.5M254.44 18.0v3.5M310.25 378.5v-6.5M310.25 18.0v6.5M366.06 378.5v-3.5M366.06 18.0v3.5M421.88 378.5v-6.5M421.88 18.0v6.5M477.69 378.5v-3.5M477.69 18.0v3.5M533.50 378.5v-6.5M533.50 18.0v6.5" stroke="#000" stroke-width="1.7" fill="none"/>
<g class="t" font-size="15"><text transform="translate(79.60,383.40) scale(1,1.04)" text-anchor="end">0</text><text transform="translate(79.60,311.30) scale(1,1.04)" text-anchor="end">200</text><text transform="translate(79.60,239.20) scale(1,1.04)" text-anchor="end">400</text><text transform="translate(79.60,167.10) scale(1,1.04)" text-anchor="end">600</text><text transform="translate(79.60,95.00) scale(1,1.04)" text-anchor="end">800</text><text transform="translate(79.60,22.90) scale(1,1.04)" text-anchor="end">1000</text><text transform="translate(87.00,398.30) scale(1,1.04)" text-anchor="middle">0</text><text transform="translate(198.62,398.30) scale(1,1.04)" text-anchor="middle">50</text><text transform="translate(310.25,398.30) scale(1,1.04)" text-anchor="middle">100</text><text transform="translate(421.88,398.30) scale(1,1.04)" text-anchor="middle">150</text><text transform="translate(533.50,398.30) scale(1,1.04)" text-anchor="middle">200</text></g>
<text class="t" x="311.2" y="428" font-size="18" text-anchor="middle">Time(s)</text>
<text class="t" transform="translate(24.3,296.5) rotate(-90)" font-size="18.9">Average Temperture (<tspan style="font-family:'Liberation Sans','Noto Sans CJK SC',sans-serif;font-weight:normal;stroke-width:0">℃</tspan><tspan dx="1">)</tspan></text>
<g stroke-width="3" fill="none">
<path d="M125.8 323.6H161.1" stroke="#000" stroke-width="2.9" stroke-linecap="round"/>
<path d="M252.7 323.6H262.8M277.2 323.6H287.3" stroke="#ff0000" stroke-width="3.2" stroke-linecap="round"/>
<path d="M380.3 323.8h2M394.6 323.8h2M409.2 323.8h2" stroke="#0000ff" stroke-width="3" stroke-linecap="round"/>
<path d="M126 343.2H135M143.7 343.2h1.2M153.6 343.2h1.2" stroke="#008800" stroke-linecap="round"/>
<path d="M253 343H260.5M266.5 343h0.1M272.3 343H279.5M285.8 343h0.1" stroke="#fa2ea8" stroke-linecap="round"/>
</g>
<g class="t" font-size="15" letter-spacing="0.2">
<text x="164.8" y="328.3">Middle</text>
<text x="291.3" y="328">Upper left</text>
<text x="419" y="328">Lower left</text>
<text x="166.2" y="347.6">Top right</text>
<text x="292.6" y="347.5">Lower right</text>
</g>
</svg>
</body></html>
